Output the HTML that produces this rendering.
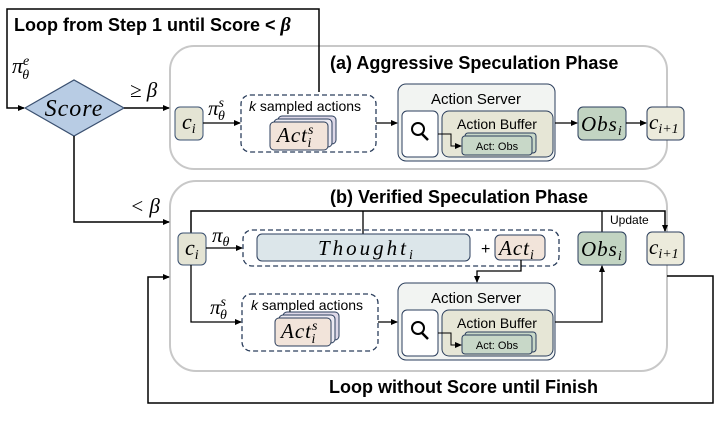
<!DOCTYPE html>
<html><head><meta charset="utf-8"><style>
html,body{margin:0;padding:0;background:#fff;}
svg{display:block;}
.b{font-family:"Liberation Sans",sans-serif;font-weight:bold;}
.s{font-family:"Liberation Sans",sans-serif;}
.m{font-family:"Liberation Serif",serif;font-style:italic;}
</style></head><body>
<svg width="721" height="436" viewBox="0 0 721 436" xmlns="http://www.w3.org/2000/svg">
<defs><marker id="a" markerWidth="7" markerHeight="6" refX="6" refY="3" orient="auto" markerUnits="userSpaceOnUse"><path d="M0,0 L7,3 L0,6 z" fill="#000"/></marker></defs>
<rect x="170" y="46" width="497" height="123" rx="24" fill="#fff" stroke="#c8c8c8" stroke-width="2"/>
<rect x="170" y="181" width="497" height="190" rx="26" fill="#fff" stroke="#c8c8c8" stroke-width="2"/>
<polyline points="319,92 319,9 7,9 7,108 24,108" fill="none" stroke="#000" stroke-width="1.5" marker-end="url(#a)"/>
<text x="14" y="31" class="b" font-size="18">Loop from Step 1 until Score &lt; <tspan class="m" font-weight="bold" font-size="20">β</tspan></text>
<text x="12" y="73" class="m" font-size="22">π<tspan font-size="14" dy="-8">e</tspan><tspan font-size="14" dx="-7" dy="14">θ</tspan></text>
<polygon points="25,108 74,80 124,108 74,136" fill="#b8cce4" stroke="#3a5070" stroke-width="1.2"/>
<text x="74" y="116" class="m" font-size="24" text-anchor="middle" letter-spacing="1">Score</text>
<line x1="124" y1="108" x2="169" y2="108" stroke="#000" stroke-width="1.5" marker-end="url(#a)"/>
<text x="130" y="97" class="m" font-size="21">≥ β</text>
<polyline points="74,136 74,222 169,222" fill="none" stroke="#000" stroke-width="1.5" marker-end="url(#a)"/>
<text x="130" y="213" class="m" font-size="21">&lt; β</text>
<text x="330" y="69" class="b" font-size="18">(a) Aggressive Speculation Phase</text>
<rect x="175" y="107" width="28" height="33" rx="5" fill="#e4e4d4" stroke="#3a5070"/>
<text x="182" y="129" class="m" font-size="22">c<tspan font-size="14" dy="4">i</tspan></text>
<line x1="203" y1="123" x2="240" y2="123" stroke="#000" stroke-width="1.3" marker-end="url(#a)"/>
<text x="208" y="115" class="m" font-size="21">π<tspan font-size="14" dy="-8">s</tspan><tspan font-size="14" dx="-6" dy="13">θ</tspan></text>
<rect x="241" y="95" width="135" height="57" rx="9" fill="none" stroke="#2b3e5c" stroke-width="1.3" stroke-dasharray="5,3"/>
<text x="249" y="111" class="s" font-size="14"><tspan font-style="italic">k</tspan> sampled actions</text>
<rect x="278" y="116" width="58" height="28" rx="4" fill="#ddd8e8" stroke="#2b3e5c"/>
<rect x="274" y="119" width="58" height="28" rx="4" fill="#eceaf2" stroke="#2b3e5c"/>
<rect x="270" y="122" width="58" height="28" rx="4" fill="#f2e4da" stroke="#2b3e5c"/>
<text x="277" y="142" class="m" font-size="21" letter-spacing="1">Act<tspan font-size="14" dy="-8">s</tspan><tspan font-size="14" dx="-7" dy="13">i</tspan></text>
<line x1="376" y1="123" x2="397" y2="123" stroke="#000" stroke-width="1.3" marker-end="url(#a)"/>
<rect x="398" y="84" width="157" height="77" rx="8" fill="#f2f4f2" stroke="#2b3e5c"/>
<text x="476" y="104" class="s" font-size="15" text-anchor="middle">Action Server</text>
<rect x="402" y="111" width="36" height="46" rx="5" fill="#fff" stroke="#2b3e5c"/>
<circle cx="418" cy="129" r="6" fill="none" stroke="#000" stroke-width="2"/><line x1="422" y1="134" x2="428" y2="140" stroke="#000" stroke-width="2.5"/>
<rect x="442" y="111" width="111" height="46" rx="7" fill="#e6e6d6" stroke="#2b3e5c"/>
<text x="497" y="129" class="s" font-size="14" text-anchor="middle">Action Buffer</text>
<rect x="465" y="133" width="71" height="20" rx="3" fill="#c8d8c8" stroke="#2b3e5c"/>
<rect x="462" y="136" width="70" height="19" rx="3" fill="#c8d8c8" stroke="#2b3e5c"/>
<text x="497" y="150" class="s" font-size="11" text-anchor="middle">Act: Obs</text>
<polyline points="438,134 451,134 451,146 461,146" fill="none" stroke="#000" stroke-width="1" marker-end="url(#a)"/>
<line x1="555" y1="123" x2="577" y2="123" stroke="#000" stroke-width="1.3" marker-end="url(#a)"/>
<rect x="578" y="107" width="48" height="33" rx="5" fill="#c2d4c2" stroke="#2b3e5c"/>
<text x="581" y="131" class="m" font-size="21" letter-spacing="1">Obs<tspan font-size="14" dy="4">i</tspan></text>
<line x1="626" y1="123" x2="646" y2="123" stroke="#000" stroke-width="1.3" marker-end="url(#a)"/>
<rect x="647" y="107" width="37" height="33" rx="5" fill="#ecebdc" stroke="#2b3e5c"/>
<text x="649" y="129" class="m" font-size="21">c<tspan font-size="14" dy="4">i+1</tspan></text>
<text x="330" y="203" class="b" font-size="18">(b) Verified Speculation Phase</text>
<polyline points="191,233 191,211 665,211 665,231" fill="none" stroke="#000" stroke-width="1.5" marker-end="url(#a)"/>
<line x1="363" y1="211" x2="363" y2="234" stroke="#000" stroke-width="1.3"/>
<line x1="602" y1="211" x2="602" y2="232" stroke="#000" stroke-width="1.3"/>
<text x="610" y="224" class="s" font-size="12">Update</text>
<rect x="178" y="233" width="28" height="32" rx="5" fill="#e4e4d4" stroke="#3a5070"/>
<text x="185" y="255" class="m" font-size="22">c<tspan font-size="14" dy="4">i</tspan></text>
<line x1="206" y1="248" x2="242" y2="248" stroke="#000" stroke-width="1.3" marker-end="url(#a)"/>
<text x="212" y="242" class="m" font-size="21">π<tspan font-size="14" dy="4">θ</tspan></text>
<rect x="243" y="230" width="316" height="36" rx="9" fill="none" stroke="#2b3e5c" stroke-width="1.3" stroke-dasharray="5,3"/>
<rect x="257" y="234" width="213" height="27" rx="5" fill="#dce6ea" stroke="#2b3e5c"/>
<text x="318" y="255" class="m" font-size="21" letter-spacing="3">Thought<tspan font-size="14" dy="4">i</tspan></text>
<text x="481" y="254" class="s" font-size="16">+</text>
<rect x="495" y="235" width="50" height="25" rx="5" fill="#f2e4da" stroke="#2b3e5c"/>
<text x="499" y="255" class="m" font-size="21" letter-spacing="1">Act<tspan font-size="14" dy="4">i</tspan></text>
<polyline points="521,260 521,271 477,271 477,282" fill="none" stroke="#000" stroke-width="1.3" marker-end="url(#a)"/>
<rect x="578" y="232" width="48" height="33" rx="5" fill="#c2d4c2" stroke="#2b3e5c"/>
<text x="581" y="256" class="m" font-size="21" letter-spacing="1">Obs<tspan font-size="14" dy="4">i</tspan></text>
<rect x="647" y="232" width="37" height="33" rx="5" fill="#ecebdc" stroke="#2b3e5c"/>
<text x="649" y="254" class="m" font-size="21">c<tspan font-size="14" dy="4">i+1</tspan></text>
<polyline points="191,265 191,322 241,322" fill="none" stroke="#000" stroke-width="1.3" marker-end="url(#a)"/>
<text x="210" y="314" class="m" font-size="21">π<tspan font-size="14" dy="-8">s</tspan><tspan font-size="14" dx="-6" dy="13">θ</tspan></text>
<rect x="242" y="294" width="136" height="57" rx="9" fill="none" stroke="#2b3e5c" stroke-width="1.3" stroke-dasharray="5,3"/>
<text x="251" y="310" class="s" font-size="14"><tspan font-style="italic">k</tspan> sampled actions</text>
<rect x="283" y="312" width="56" height="28" rx="4" fill="#ddd8e8" stroke="#2b3e5c"/>
<rect x="279" y="315" width="56" height="28" rx="4" fill="#eceaf2" stroke="#2b3e5c"/>
<rect x="275" y="318" width="56" height="28" rx="4" fill="#f2e4da" stroke="#2b3e5c"/>
<text x="281" y="338" class="m" font-size="21" letter-spacing="1">Act<tspan font-size="14" dy="-8">s</tspan><tspan font-size="14" dx="-7" dy="13">i</tspan></text>
<line x1="378" y1="322" x2="397" y2="322" stroke="#000" stroke-width="1.3" marker-end="url(#a)"/>
<rect x="398" y="283" width="157" height="77" rx="8" fill="#f2f4f2" stroke="#2b3e5c"/>
<text x="476" y="303" class="s" font-size="15" text-anchor="middle">Action Server</text>
<rect x="402" y="310" width="36" height="46" rx="5" fill="#fff" stroke="#2b3e5c"/>
<circle cx="418" cy="328" r="6" fill="none" stroke="#000" stroke-width="2"/><line x1="422" y1="333" x2="428" y2="339" stroke="#000" stroke-width="2.5"/>
<rect x="442" y="310" width="111" height="46" rx="7" fill="#e6e6d6" stroke="#2b3e5c"/>
<text x="497" y="328" class="s" font-size="14" text-anchor="middle">Action Buffer</text>
<rect x="465" y="332" width="71" height="20" rx="3" fill="#c8d8c8" stroke="#2b3e5c"/>
<rect x="462" y="335" width="70" height="19" rx="3" fill="#c8d8c8" stroke="#2b3e5c"/>
<text x="497" y="349" class="s" font-size="11" text-anchor="middle">Act: Obs</text>
<polyline points="438,333 451,333 451,345 461,345" fill="none" stroke="#000" stroke-width="1" marker-end="url(#a)"/>
<polyline points="555,322 602,322 602,266" fill="none" stroke="#000" stroke-width="1.3" marker-end="url(#a)"/>
<polyline points="667,276 713,276 713,403 148,403 148,277 169,277" fill="none" stroke="#000" stroke-width="1.5" marker-end="url(#a)"/>
<text x="329" y="393" class="b" font-size="18">Loop without Score until Finish</text>
</svg>
</body></html>
